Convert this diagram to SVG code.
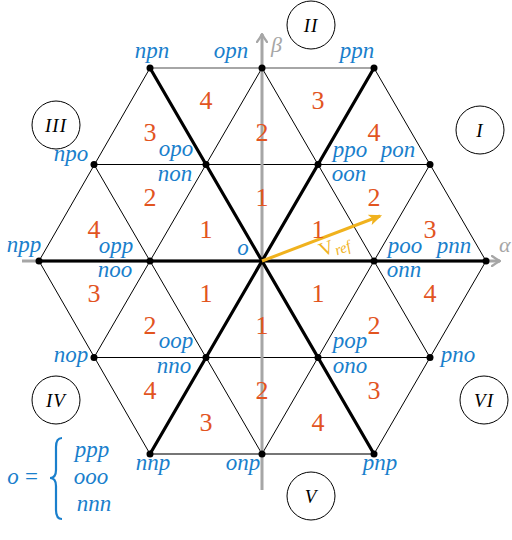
<svg xmlns="http://www.w3.org/2000/svg" width="512" height="540" viewBox="0 0 512 540">
<style>
.thin{stroke:#000;stroke-width:1;fill:none}
.thick{stroke:#000;stroke-width:3.2;fill:none;stroke-linecap:round}
.axis{stroke:#a6a6a6;stroke-width:3;fill:none}
text{font-family:'Liberation Serif','Times New Roman',serif}
.lbl{font-style:italic;font-size:23px;fill:#1a7fcc;text-anchor:middle}
.num{font-size:26px;fill:#e2541f;text-anchor:middle}
.sec{fill:none;stroke:#000;stroke-width:1}
.sect{font-style:italic;font-size:19px;fill:#000;text-anchor:middle;letter-spacing:1px}
.ax{font-style:italic;font-size:22px;fill:#a6a6a6}
.dot{fill:#000}
</style>
<defs>
<marker id="ah" viewBox="0 0 10 12" refX="9" refY="6" markerWidth="10" markerHeight="12" markerUnits="userSpaceOnUse" orient="auto">
<path d="M1,1 Q5,4 9,6 Q5,8 1,11" fill="none" stroke="#a6a6a6" stroke-width="2.2" stroke-linecap="round"/>
</marker>
<marker id="vh" viewBox="0 0 12 10" refX="10" refY="5" markerWidth="14" markerHeight="11" markerUnits="userSpaceOnUse" orient="auto">
<path d="M0,0 L12,5 L0,10 L3,5 Z" fill="#f0b21e"/>
</marker>
</defs>
<g id="connectors">
<g id="grid">
<line class="thin" x1="94" y1="164.5" x2="430" y2="164.5"/>
<line class="thin" x1="94" y1="357.5" x2="430" y2="357.5"/>
<line class="thin" x1="39" y1="261" x2="150" y2="68"/>
<line class="thin" x1="94" y1="357.5" x2="262" y2="68"/>
<line class="thin" x1="262" y1="454" x2="430" y2="164.5"/>
<line class="thin" x1="374" y1="454" x2="486" y2="261"/>
<line class="thin" x1="374" y1="68" x2="486" y2="261"/>
<line class="thin" x1="262" y1="68" x2="430" y2="357.5"/>
<line class="thin" x1="94" y1="164.5" x2="262" y2="454"/>
<line class="thin" x1="39" y1="261" x2="150" y2="454"/>
<line x1="150" y1="68" x2="374" y2="68" stroke="#a6a6a6" stroke-width="2"/>
<line x1="150" y1="454" x2="374" y2="454" stroke="#767676" stroke-width="2"/>
</g>
<g id="axes">
<line class="axis" x1="22" y1="261" x2="500" y2="261" marker-end="url(#ah)"/>
<line class="axis" x1="262" y1="490" x2="262" y2="34" marker-end="url(#ah)"/>
</g>
<g id="thicklines">
<line class="thick" x1="39" y1="261" x2="486" y2="261"/>
<line class="thick" x1="150" y1="68" x2="374" y2="454"/>
<line class="thick" x1="374" y1="68" x2="150" y2="454"/>
</g>
<g id="vref">
<line x1="262" y1="261" x2="380" y2="216" stroke="#f0b21e" stroke-width="3" marker-end="url(#vh)"/>
<text transform="translate(322,257) rotate(-21)" font-size="20" fill="#f0b21e">V<tspan font-style="italic" font-size="15" dy="4">ref</tspan></text>
</g>
</g>
<g id="alpha"><text class="ax" x="499" y="252">α</text></g>
<g id="beta"><text class="ax" x="271" y="52">β</text></g>
<g id="regions">
<text class="num" x="150" y="141">3</text>
<text class="num" x="206" y="109">4</text>
<text class="num" x="262" y="141">2</text>
<text class="num" x="318" y="109">3</text>
<text class="num" x="374" y="141">4</text>
<text class="num" x="94" y="238">4</text>
<text class="num" x="150" y="206">2</text>
<text class="num" x="206" y="238">1</text>
<text class="num" x="262" y="206">1</text>
<text class="num" x="318" y="238">1</text>
<text class="num" x="374" y="206">2</text>
<text class="num" x="430" y="238">3</text>
<text class="num" x="94" y="302">3</text>
<text class="num" x="150" y="334">2</text>
<text class="num" x="206" y="302">1</text>
<text class="num" x="262" y="334">1</text>
<text class="num" x="318" y="302">1</text>
<text class="num" x="374" y="334">2</text>
<text class="num" x="430" y="302">4</text>
<text class="num" x="150" y="399">4</text>
<text class="num" x="206" y="431">3</text>
<text class="num" x="262" y="399">2</text>
<text class="num" x="318" y="431">4</text>
<text class="num" x="374" y="399">3</text>
</g>
<g id="node-npn"><circle class="dot" cx="150" cy="68" r="3.5"/><text class="lbl" x="152" y="58">npn</text></g>
<g id="node-opn"><circle class="dot" cx="262" cy="68" r="3.5"/><text class="lbl" x="231" y="58">opn</text></g>
<g id="node-ppn"><circle class="dot" cx="374" cy="68" r="3.5"/><text class="lbl" x="357" y="58">ppn</text></g>
<g id="node-npo"><circle class="dot" cx="94" cy="164.5" r="3.5"/><text class="lbl" x="71" y="161">npo</text></g>
<g id="node-opo"><circle class="dot" cx="206" cy="164.5" r="3.5"/><text class="lbl" x="176" y="156">opo</text><text class="lbl" x="175" y="181">non</text></g>
<g id="node-ppo"><circle class="dot" cx="318" cy="164.5" r="3.5"/><text class="lbl" x="350" y="157">ppo</text><text class="lbl" x="349" y="181">oon</text></g>
<g id="node-pon"><circle class="dot" cx="430" cy="164.5" r="3.5"/><text class="lbl" x="398" y="157">pon</text></g>
<g id="node-npp"><circle class="dot" cx="39" cy="261" r="3.5"/><text class="lbl" x="24" y="252">npp</text></g>
<g id="node-opp"><circle class="dot" cx="150" cy="261" r="3.5"/><text class="lbl" x="116" y="253">opp</text><text class="lbl" x="115" y="277">noo</text></g>
<g id="node-o"><text class="lbl" x="243" y="255">o</text></g>
<g id="node-poo"><circle class="dot" cx="374" cy="261" r="3.5"/><text class="lbl" x="405" y="253">poo</text><text class="lbl" x="404" y="277">onn</text></g>
<g id="node-pnn"><circle class="dot" cx="486" cy="261" r="3.5"/><text class="lbl" x="454" y="253">pnn</text></g>
<g id="node-nop"><circle class="dot" cx="94" cy="357.5" r="3.5"/><text class="lbl" x="71" y="362">nop</text></g>
<g id="node-oop"><circle class="dot" cx="206" cy="357.5" r="3.5"/><text class="lbl" x="176" y="348">oop</text><text class="lbl" x="174" y="373">nno</text></g>
<g id="node-pop"><circle class="dot" cx="318" cy="357.5" r="3.5"/><text class="lbl" x="350" y="348">pop</text><text class="lbl" x="350" y="373">ono</text></g>
<g id="node-pno"><circle class="dot" cx="430" cy="357.5" r="3.5"/><text class="lbl" x="458" y="362">pno</text></g>
<g id="node-nnp"><circle class="dot" cx="150" cy="454" r="3.5"/><text class="lbl" x="153" y="470">nnp</text></g>
<g id="node-onp"><circle class="dot" cx="262" cy="454" r="3.5"/><text class="lbl" x="243" y="470">onp</text></g>
<g id="node-pnp"><circle class="dot" cx="374" cy="454" r="3.5"/><text class="lbl" x="380" y="470">pnp</text></g>
<g id="sector-I"><circle class="sec" cx="480" cy="130" r="24"/><text class="sect" x="480" y="137">I</text></g>
<g id="sector-II"><circle class="sec" cx="311" cy="25" r="24"/><text class="sect" x="311" y="32">II</text></g>
<g id="sector-III"><circle class="sec" cx="56" cy="125" r="24"/><text class="sect" x="56" y="132">III</text></g>
<g id="sector-IV"><circle class="sec" cx="56" cy="400" r="24"/><text class="sect" x="56" y="407">IV</text></g>
<g id="sector-V"><circle class="sec" cx="311" cy="496" r="24"/><text class="sect" x="311" y="503">V</text></g>
<g id="sector-VI"><circle class="sec" cx="484" cy="400" r="24"/><text class="sect" x="484" y="407">VI</text></g>
<g id="legend">
<text class="lbl" x="13" y="484">o</text>
<text x="25" y="484" font-size="23" fill="#1a7fcc">=</text>
<path d="M62,438 Q56,438 56,447 L56,470 Q56,478 50,478 Q56,478 56,486 L56,510 Q56,519 62,519" fill="none" stroke="#1a7fcc" stroke-width="2.2"/>
<text class="lbl" x="92" y="457">ppp</text>
<text class="lbl" x="91" y="484">ooo</text>
<text class="lbl" x="94" y="511">nnn</text>
</g>
</svg>
